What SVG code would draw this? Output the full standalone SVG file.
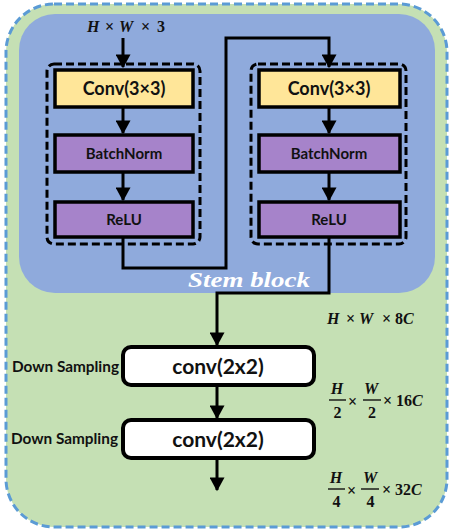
<svg xmlns="http://www.w3.org/2000/svg" width="452" height="531" viewBox="0 0 452 531">
<defs>
<marker id="ah" markerWidth="5" markerHeight="5" refX="4.2" refY="2.5" orient="auto" markerUnits="strokeWidth">
<path d="M0,0 L4.6,2.5 L0,5 Z" fill="#000"/>
</marker>
<style>
.box{stroke:#000;stroke-width:3.5}
.conv{fill:#FFE699}
.pur{fill:#A683CA}
.grp{fill:none;stroke:#000;stroke-width:3;stroke-dasharray:8 4}
.lbl{font-family:Lato,"Open Sans",sans-serif;font-weight:bold;fill:#111;text-anchor:middle}
.ds{font-family:Lato,"Open Sans",sans-serif;font-weight:bold;font-size:15px;fill:#111}
.m{font-family:"Liberation Serif",serif;font-weight:bold;font-size:16px;fill:#111}
.mi{font-style:italic}
.cn{stroke:#000;stroke-width:3;fill:none}
.bar{stroke:#111;stroke-width:1.4}
</style>
</defs>
<rect x="6" y="4" width="441" height="523" rx="48" fill="#C5E0B4" stroke="#5B9BD5" stroke-width="3" stroke-dasharray="8 4"/>
<rect x="19" y="14" width="416" height="279" rx="36" fill="#8FAADC"/>
<g id="connectors">
<path class="cn" d="M123,38 V67" marker-end="url(#ah)"/>
<path class="cn" d="M123,107 V133" marker-end="url(#ah)"/>
<path class="cn" d="M123,172 V200" marker-end="url(#ah)"/>
<path class="cn" d="M123,237 V268 H226 V38 H329 V67" marker-end="url(#ah)"/>
<path class="cn" d="M329,107 V133" marker-end="url(#ah)"/>
<path class="cn" d="M329,172 V200" marker-end="url(#ah)"/>
<path class="cn" d="M329,237 V293 H217 V345" marker-end="url(#ah)"/>
<path class="cn" d="M217,385 V418" marker-end="url(#ah)"/>
<path class="cn" d="M217,458 V490" marker-end="url(#ah)"/>
</g>
<g id="input-label"><text class="m" y="32" font-size="15"><tspan class="mi" x="87">H</tspan><tspan x="105">×</tspan><tspan class="mi" x="119">W</tspan><tspan x="141">×</tspan><tspan x="157">3</tspan></text></g>
<g id="left-group">
<rect class="grp" x="47" y="64" width="153" height="180" rx="7"/>
</g>
<g id="conv-left"><rect class="box conv" x="55" y="70" width="138" height="37"/><text class="lbl" x="124" y="95" font-size="18">Conv(3×3)</text></g>
<g id="bn-left"><rect class="box pur" x="55" y="135" width="138" height="37"/><text class="lbl" x="124" y="159" font-size="15">BatchNorm</text></g>
<g id="relu-left"><rect class="box pur" x="55" y="202" width="138" height="35"/><text class="lbl" x="124" y="225" font-size="15">ReLU</text></g>
<g id="right-group">
<rect class="grp" x="251" y="64" width="155" height="180" rx="7"/>
</g>
<g id="conv-right"><rect class="box conv" x="259" y="70" width="141" height="37"/><text class="lbl" x="329" y="95" font-size="18">Conv(3×3)</text></g>
<g id="bn-right"><rect class="box pur" x="259" y="135" width="141" height="37"/><text class="lbl" x="329" y="159" font-size="15">BatchNorm</text></g>
<g id="relu-right"><rect class="box pur" x="259" y="202" width="141" height="35"/><text class="lbl" x="329" y="225" font-size="15">ReLU</text></g>
<g id="stem-label"><text x="188" y="287" font-family="'Liberation Serif',serif" font-weight="bold" font-style="italic" font-size="21" fill="#fff" textLength="122" lengthAdjust="spacingAndGlyphs">Stem block</text></g>
<g id="conv2x2-1"><rect x="123" y="347" width="191" height="38" rx="8" fill="#fff" stroke="#000" stroke-width="4"/><text class="lbl" x="218" y="374" font-size="21">conv(2x2)</text></g>
<g id="conv2x2-2"><rect x="123" y="420" width="191" height="38" rx="8" fill="#fff" stroke="#000" stroke-width="4"/><text class="lbl" x="218" y="447" font-size="21">conv(2x2)</text></g>
<g id="ds-labels"><text class="ds" x="12" y="372" textLength="107" lengthAdjust="spacingAndGlyphs">Down Sampling</text><text class="ds" x="11" y="444" textLength="107" lengthAdjust="spacingAndGlyphs">Down Sampling</text></g>
<g id="dim1"><text class="m" y="324"><tspan class="mi" x="327">H</tspan><tspan x="346">×</tspan><tspan class="mi" x="359">W</tspan><tspan x="382">×</tspan><tspan x="395">8<tspan class="mi">C</tspan></tspan></text></g>
<g id="dim2">
<text class="m" x="337" y="394" text-anchor="middle"><tspan class="mi">H</tspan></text>
<line class="bar" x1="329" y1="400" x2="346" y2="400"/>
<text class="m" x="337.5" y="418" text-anchor="middle">2</text>
<text class="m" x="348" y="407">×</text>
<text class="m" x="371" y="394" text-anchor="middle"><tspan class="mi">W</tspan></text>
<line class="bar" x1="363" y1="400" x2="381" y2="400"/>
<text class="m" x="372" y="418" text-anchor="middle">2</text>
<text class="m" y="406"><tspan x="383">×</tspan><tspan x="396">16<tspan class="mi">C</tspan></tspan></text>
</g>
<g id="dim3">
<text class="m" x="336" y="483" text-anchor="middle"><tspan class="mi">H</tspan></text>
<line class="bar" x1="328" y1="489" x2="345" y2="489"/>
<text class="m" x="336.5" y="507" text-anchor="middle">4</text>
<text class="m" x="347" y="496">×</text>
<text class="m" x="370" y="483" text-anchor="middle"><tspan class="mi">W</tspan></text>
<line class="bar" x1="361" y1="489" x2="379" y2="489"/>
<text class="m" x="370.5" y="507" text-anchor="middle">4</text>
<text class="m" y="495"><tspan x="382">×</tspan><tspan x="395">32<tspan class="mi">C</tspan></tspan></text>
</g>
</svg>
